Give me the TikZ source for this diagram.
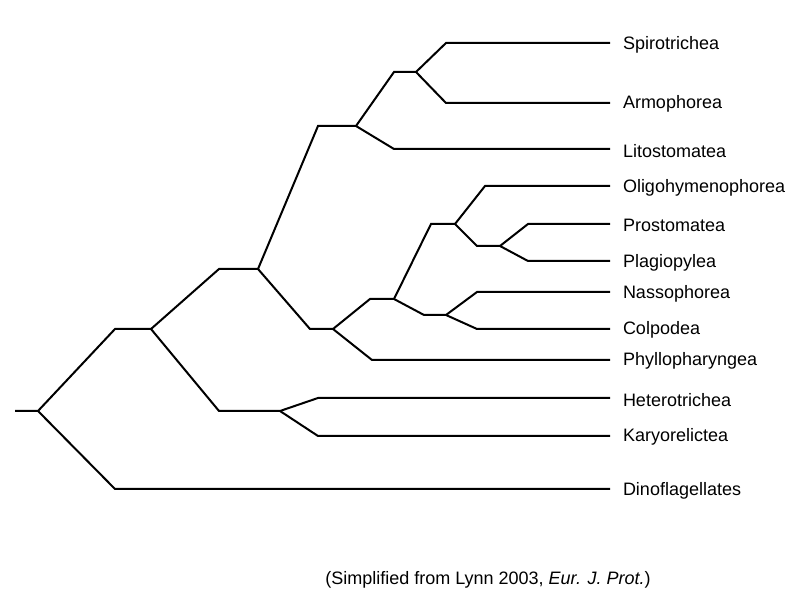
\documentclass[tikz,border=0pt]{standalone}
\usepackage{fontspec}
\setmainfont{Liberation Sans}
\begin{document}
\begin{tikzpicture}[x=1pt,y=-1pt,line width=2pt,
  lab/.style={anchor=west,font=\fontsize{18}{20}\selectfont,inner sep=0pt},
  br/.style={line join=miter}]
\useasboundingbox (0,0) rectangle (807,601);
% forks
\coordinate (r0) at (15,411); \coordinate (r1) at (38,411);
\coordinate (a0) at (115,329); \coordinate (a1) at (151,329);
\coordinate (d0) at (115,489);
\coordinate (b0) at (219,269); \coordinate (b1) at (258,269);
\coordinate (h0) at (219,411); \coordinate (h1) at (280,411);
\coordinate (he) at (318,398); \coordinate (ka) at (318,436);
\coordinate (c0) at (318,126); \coordinate (c1) at (356,126);
\coordinate (s0) at (394,72); \coordinate (s1) at (416,72);
\coordinate (sp) at (446,43); \coordinate (ar) at (446,103);
\coordinate (li) at (394,149);
\coordinate (e0) at (310,329); \coordinate (e1) at (333,329);
\coordinate (ph) at (372,360);
\coordinate (f0) at (370,299); \coordinate (f1) at (394,299);
\coordinate (g0) at (431,224); \coordinate (g1) at (455,224);
\coordinate (ol) at (485,186);
\coordinate (p0) at (477,246); \coordinate (p1) at (500,246);
\coordinate (pr) at (528,224); \coordinate (pl) at (528,261);
\coordinate (n0) at (424,315); \coordinate (n1) at (446,315);
\coordinate (na) at (477,292); \coordinate (co) at (477,329);
% labels
\node[lab] (Lsp) at (622,45) {Spirotrichea};
\node[lab] (Lar) at (622,104) {Armophorea};
\node[lab] (Lli) at (622,151) {Litostomatea};
\node[lab] (Lol) at (622,188) {Oligohymenophorea};
\node[lab] (Lpr) at (622,225) {Prostomatea};
\node[lab] (Lpl) at (622,263) {Plagiopylea};
\node[lab] (Lna) at (622,294) {Nassophorea};
\node[lab] (Lco) at (622,330) {Colpodea};
\node[lab] (Lph) at (622,361) {Phyllopharyngea};
\node[lab] (Lhe) at (622,400) {Heterotrichea};
\node[lab] (Lka) at (622,437) {Karyorelictea};
\node[lab] (Ldi) at (622,491) {Dinoflagellates};
\node[font=\fontsize{18}{20}\selectfont] (cap) at (488,580) {(Simplified from Lynn 2003, \textit{Eur. J. Prot.})};
% branches
\draw[br] (r0) -- (r1) -- (a0) -- (a1) -- (b0) -- (b1) -- (c0) -- (c1) -- (s0) -- (s1) -- (sp) -- (610,43);
\draw (s1) -- (ar) -- (610,103);
\draw (c1) -- (li) -- (610,149);
\draw (r1) -- (d0) -- (610,489);
\draw (a1) -- (h0) -- (h1) -- (he) -- (610,398);
\draw (h1) -- (ka) -- (610,436);
\draw (b1) -- (e0) -- (e1) -- (f0) -- (f1) -- (g0) -- (g1) -- (ol) -- (610,186);
\draw (g1) -- (p0) -- (p1) -- (pr) -- (610,224);
\draw (p1) -- (pl) -- (610,261);
\draw (f1) -- (n0) -- (n1) -- (na) -- (610,292);
\draw (n1) -- (co) -- (610,329);
\draw (e1) -- (ph) -- (610,360);
\end{tikzpicture}
\end{document}
